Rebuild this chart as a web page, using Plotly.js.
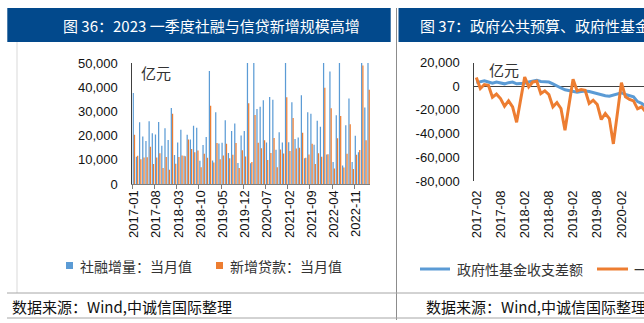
<!DOCTYPE html>
<html><head><meta charset="utf-8">
<script src="https://cdn.plot.ly/plotly-3.0.1.min.js"></script>
<style>html,body{margin:0;padding:0;background:#fff;overflow:hidden}#chart{width:644px;height:323px}</style>
</head><body><div id="chart"></div>
<script>
// ---- Figure 36 data (亿元) ----
const months = [
 '2017-01','2017-02','2017-03','2017-04','2017-05','2017-06','2017-07','2017-08','2017-09','2017-10','2017-11','2017-12',
 '2018-01','2018-02','2018-03','2018-04','2018-05','2018-06','2018-07','2018-08','2018-09','2018-10','2018-11','2018-12',
 '2019-01','2019-02','2019-03','2019-04','2019-05','2019-06','2019-07','2019-08','2019-09','2019-10','2019-11','2019-12',
 '2020-01','2020-02','2020-03','2020-04','2020-05','2020-06','2020-07','2020-08','2020-09','2020-10','2020-11','2020-12',
 '2021-01','2021-02','2021-03','2021-04','2021-05','2021-06','2021-07','2021-08','2021-09','2021-10','2021-11','2021-12',
 '2022-01','2022-02','2022-03','2022-04','2022-05','2022-06','2022-07','2022-08','2022-09','2022-10','2022-11','2022-12',
 '2023-01','2023-02','2023-03'];
const tsf = [
 37600,11300,25500,19600,17800,25900,21000,20500,25600,15800,23000,18200,
 31400,12000,17100,22400,11700,20300,18400,24100,23200,9600,16100,19400,
 46700,9700,29700,16700,17000,26300,12800,21900,25000,8700,20000,21900,
 50800,8600,51800,31000,31900,34600,17200,35900,34800,14200,21400,17200,
 51800,17300,33800,18600,19200,36700,10600,29600,29000,16200,26100,23700,
 61700,12200,46500,9100,28400,51700,7600,24300,35300,9100,19900,13100,
 59800,31600,53800];
const loans = [
 20300,11700,10200,11000,11100,15400,8255,10900,12700,6632,11200,5844,
 29000,8393,11200,11800,11500,18400,14500,13100,13800,6970,12500,10800,
 32300,8858,16900,10200,11800,16600,10600,12100,16900,6613,13900,11400,
 33400,9057,28500,17000,14800,18100,9927,12800,19000,6898,14300,12600,
 35800,13600,27300,14700,15000,21200,10800,12200,16600,8262,12700,11300,
 39800,12300,31300,6454,18900,28100,6790,12500,24700,6152,12100,14000,
 49000,18100,38900];
const leftYTicks = [0,10000,20000,30000,40000,50000];

// ---- Figure 37 data (亿元) ----
const fiscalMonths = [
 '2017-02','2017-03','2017-04','2017-05','2017-06','2017-07','2017-08','2017-09','2017-10','2017-11','2017-12',
 '2018-01','2018-02','2018-03','2018-04','2018-05','2018-06','2018-07','2018-08','2018-09','2018-10','2018-11','2018-12',
 '2019-01','2019-02','2019-03','2019-04','2019-05','2019-06','2019-07','2019-08','2019-09','2019-10','2019-11','2019-12',
 '2020-01','2020-02','2020-03','2020-04','2020-05','2020-06','2020-07','2020-08'];
const govFundGap = [
 3000,4000,4500,3500,2500,3500,2500,2000,3000,3500,2000,
 null,2500,3500,4500,5000,4000,3500,3500,2000,0,-1500,-3000,
 null,-4500,-5000,-4500,-4000,-4500,-5500,-6000,-7000,-8000,-8500,-7500,
 null,-5500,-7000,-8000,-9000,-13000,-14500,-17000];
const budgetGap = [
 7300,-2000,1400,800,-9300,-6700,-10400,-16900,-12400,-17400,-30500,
 null,7800,-500,3600,4200,-6200,-3900,-7000,-17400,-13800,-18800,-37200,
 null,5900,-3900,-2800,-3400,-14600,-11800,-15400,-28100,-23000,-27300,-48700,
 null,3000,-9000,-11200,-12400,-19100,-17400,-21600];
const rightYTicks = [20000,0,-20000,-40000,-60000,-80000];
const rightYTickText = ['20,000','0','-20,000','-40,000','-60,000','-80,000'];

const W = 644, H = 323;
const px = x => x / W, py = y => 1 - y / H;
const NUM = 'Liberation Sans, Arial, sans-serif';
const CJK = 'Noto Sans CJK SC, sans-serif';
const BLUE = '#5B9BD5', ORANGE = '#ED7D31', BAR = '#02498C';

const traces = [
 {type:'bar', x:months, y:tsf, name:'社融增量：当月值', marker:{color:BLUE}, xaxis:'x', yaxis:'y'},
 {type:'bar', x:months, y:loans, name:'新增贷款：当月值', marker:{color:ORANGE}, xaxis:'x', yaxis:'y'},
 {type:'scatter', mode:'lines', x:fiscalMonths, y:govFundGap, name:'政府性基金收支差额', connectgaps:true,
  line:{color:BLUE, width:3}, xaxis:'x2', yaxis:'y2'},
 {type:'scatter', mode:'lines', x:fiscalMonths, y:budgetGap, name:'一般公共预算收支差额', connectgaps:true,
  line:{color:ORANGE, width:3}, xaxis:'x2', yaxis:'y2'}
];

function ann(text, x, y, opt) {
  return Object.assign({text:text, x:px(x), y:py(y), xref:'paper', yref:'paper', showarrow:false,
    xanchor:'left', yanchor:'middle', font:{family:CJK, size:14, color:'#333'}}, opt || {});
}
function line(x0, y0, x1, y1, color, width) {
  return {type:'line', xref:'paper', yref:'paper', x0:px(x0), y0:py(y0), x1:px(x1), y1:py(y1),
    line:{color:color, width:width}};
}
function rect(x0, y0, x1, y1, color) {
  return {type:'rect', xref:'paper', yref:'paper', x0:px(x0), y0:py(y0), x1:px(x1), y1:py(y1),
    fillcolor:color, line:{width:0}};
}

const layout = {
  width:W, height:H, margin:{l:0, r:0, t:0, b:0}, paper_bgcolor:'#fff', plot_bgcolor:'rgba(0,0,0,0)',
  showlegend:false, barmode:'group', bargap:0.22, bargroupgap:0,
  xaxis:{domain:[px(132.3), px(370.2)], type:'category', range:[-0.5, 74.5], tickmode:'linear', tick0:0, dtick:7,
    tickson:'boundaries', ticks:'outside', ticklen:4, tickcolor:'#7f7f7f', showline:true, linecolor:'#7f7f7f',
    tickangle:-90, tickfont:{family:NUM, size:13, color:'#111'}, showgrid:false, fixedrange:true},
  yaxis:{domain:[py(184), py(63)], range:[0, 50000], tickvals:leftYTicks, tickformat:',d', showline:true,
    linecolor:'#404040', ticks:'', showgrid:false, zeroline:false, ticklabelstandoff:11,
    tickfont:{family:NUM, size:13, color:'#111'}, fixedrange:true},
  xaxis2:{domain:[px(474.3), 1], anchor:'y2', type:'category', range:[-0.5, 41.6], tickmode:'linear', tick0:0, dtick:6,
    ticks:'', showline:false, tickangle:-90, tickfont:{family:NUM, size:13, color:'#111'}, showgrid:false,
    ticklabelstandoff:6, fixedrange:true},
  yaxis2:{domain:[py(181), py(62.5)], anchor:'x2', range:[-80000, 20000], tickvals:rightYTicks, ticktext:rightYTickText,
    showline:true, linecolor:'#404040', ticks:'', showgrid:false, zeroline:true, zerolinecolor:'#404040',
    zerolinewidth:1, ticklabelstandoff:11, tickfont:{family:NUM, size:13, color:'#111'}, fixedrange:true},
  shapes:[
    rect(7.3, 8, 390.7, 42, BAR),
    rect(398.5, 8, 660, 42, BAR),
    line(396.5, 8, 396.5, 320, '#8c8c8c', 1),
    line(17, 42, 17, 293, '#d9d9d9', 1),
    line(7, 293, 660, 293, '#a6a6a6', 1),
    line(7, 318, 660, 318, '#a6a6a6', 1),
    rect(66, 269, 73, 262, BLUE),
    rect(216, 269, 223, 262, ORANGE),
    line(420, 269, 450, 269, BLUE, 3),
    line(597, 269, 628, 269, ORANGE, 3)
  ],
  annotations:[
    ann('图 36：2023 一季度社融与信贷新增规模高增', 211, 25, {xanchor:'center', font:{family:CJK, size:15, color:'#fff'}}),
    ann('图 37：政府公共预算、政府性基金预算收支差额', 418, 25, {font:{family:CJK, size:15, color:'#fff'}}),
    ann('亿元', 139, 72, {font:{family:CJK, size:15, color:'#333'}}),
    ann('亿元', 487, 69, {font:{family:CJK, size:15, color:'#333'}}),
    ann('社融增量：当月值', 78, 265.5),
    ann('新增贷款：当月值', 228, 265.5),
    ann('政府性基金收支差额', 455, 269),
    ann('一般公共预算收支差额', 632, 269),
    ann('数据来源：Wind,中诚信国际整理', 10, 306, {font:{family:CJK, size:15, color:'#111'}}),
    ann('数据来源：Wind,中诚信国际整理', 424, 306, {font:{family:CJK, size:15, color:'#111'}})
  ]
};

Plotly.newPlot('chart', traces, layout, {staticPlot:true, displayModeBar:false});
</script>
</body></html>
